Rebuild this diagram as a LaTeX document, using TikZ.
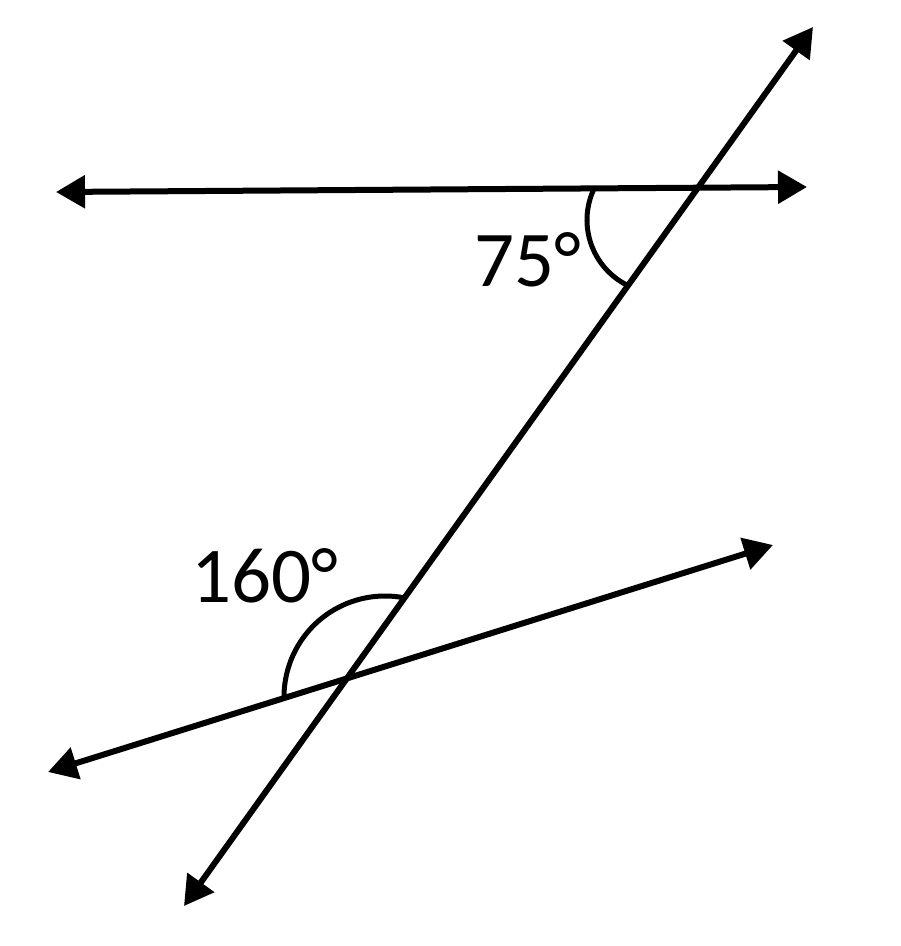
\documentclass[tikz,border=0pt]{standalone}
\usepackage{fontspec}
\setmainfont{Carlito}
\usepackage{tikz}
\usetikzlibrary{arrows.meta}

\begin{document}
\begin{tikzpicture}[
  x=1pt, y=1pt,
  line/.style={line width=6pt, {Triangle[length=29pt, width=32pt]}-{Triangle[length=29pt, width=32pt]}},
  angle arc/.style={line width=5pt},
  angle label/.style={font=\fontsize{79}{90}\selectfont, inner sep=0pt}
]
\useasboundingbox (0,0) rectangle (901,946);
\coordinate (h1) at (56,754);
\coordinate (h2) at (807,759);
\coordinate (t1) at (184,40);
\coordinate (t2) at (813,919);
\coordinate (l1) at (48,174);
\coordinate (l2) at (773,401);
\coordinate (c75) at (660,726);
\coordinate (c160) at (385,249);
\draw[line] (h1) -- (h2);
\draw[line] (t1) -- (t2);
\draw[line] (l1) -- (l2);
\draw[angle arc] ([shift={(155.7:73pt)}]c75) arc[start angle=155.7, end angle=243, radius=73pt];
\draw[angle arc] ([shift={(180:101pt)}]c160) arc[start angle=180, end angle=79, radius=101pt];
\node[angle label, anchor=base] (a75) at (528,659) {75°};
\node[angle label, anchor=base] (a160) at (265,343) {160°};
\end{tikzpicture}
\end{document}
